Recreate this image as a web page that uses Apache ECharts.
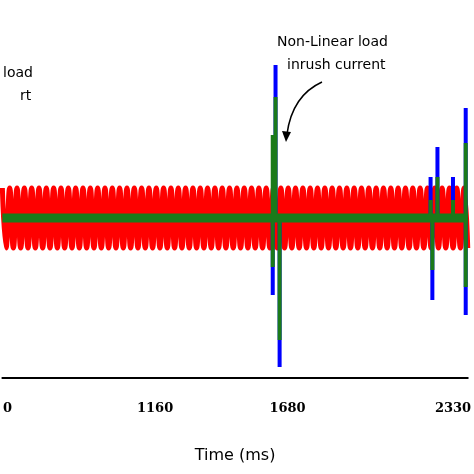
<!DOCTYPE html>
<html>
<head>
<meta charset="utf-8">
<script src="https://cdn.jsdelivr.net/npm/echarts@6/dist/echarts.min.js"></script>
<style>html,body{margin:0;padding:0;background:#fff}#c{width:474px;height:474px}</style>
</head>
<body>
<div id="c"></div>
<script>
// tick labels (ms)
var tickValues = [580, 1160, 1680, 2330];
var tickLabels = ['0', '1160', '1680', '2330'];

// supply current, read as half-cycle extremes
var redPeaks = [
    30, -30, 30, -30, 30, -30, 30, -30, 30, -30, 30, -30, 30, -30, 30, -30,
    30, -30, 30, -30, 30, -30, 30, -30, 30, -30, 30, -30, 30, -30, 30, -30,
    30, -30, 30, -30, 30, -30, 30, -30, 30, -30, 30, -30, 30, -30, 30, -30,
    30, -30, 30, -30, 30, -30, 30, -30, 30, -30, 30, -30, 30, -30, 30, -30,
    30, -30, 30, -30, 30, -30, 30, -30, 30, -30, 30, -30, 30, -30, 30, -30,
    30, -30, 30, -30, 30, -30, 30, -30, 30, -30, 30, -30, 30, -30, 30, -30,
    30, -30, 30, -30, 30, -30, 30, -30, 30, -30, 30, -30, 30, -30, 30, -30,
    30, -30, 30, -30, 30, -30, 30, -30, 30, -30, 30, -30, 30, -30, 30, -30
];

// spikes: time (ms), blue extreme, green extreme
var spikeTimes = [1622, 1622, 1633, 1649, 2242, 2249, 2269, 2330, 2380, 2380];
var blueSpikes = [0, -77, 153, -149, 41, -82, 71, 41, 110, -97];
var greenSpikes = [83, -49, 121, -122, 18, -52, 41, 18, 75, -69];

function spikeData(vals) {
    var d = [];
    for (var i = 0; i < spikeTimes.length; i++) {
        d.push([spikeTimes[i], 0], [spikeTimes[i], vals[i]], null);
    }
    return d;
}

var redCats = [];
for (var i = 0; i < redPeaks.length; i++) redCats.push(i);

var myChart = echarts.init(document.getElementById('c'));
myChart.setOption({
    animation: false,
    grid: {left: 0, right: 0, top: 0, bottom: 96},
    xAxis: [{
        type: 'value', min: 560, max: 2388,
        axisLine: {show: true, onZero: false, lineStyle: {color: '#000', width: 2}},
        axisTick: {show: false},
        splitLine: {show: false},
        axisLabel: {
            customValues: tickValues,
            formatter: function (v) { return tickLabels[tickValues.indexOf(v)]; },
            fontFamily: 'DejaVu Serif', fontWeight: 'bold', fontSize: 13, color: '#000', margin: 24
        },
        name: 'Time (ms)', nameLocation: 'middle', nameGap: 70,
        nameTextStyle: {fontFamily: 'DejaVu Sans', fontSize: 16, color: '#000'}
    }, {
        type: 'category', data: redCats, boundaryGap: false, show: false
    }],
    yAxis: {type: 'value', min: -160, max: 218, show: false},
    series: [{
        type: 'line', xAxisIndex: 1, data: redPeaks, smooth: true, symbol: 'none',
        lineStyle: {color: '#ff0000', width: 5}
    }, {
        type: 'line', data: spikeData(blueSpikes), symbol: 'none', connectNulls: false,
        lineStyle: {color: '#0000ff', width: 4}
    }, {
        type: 'line', data: spikeData(greenSpikes), symbol: 'none', connectNulls: false,
        lineStyle: {color: '#1a7a1a', width: 4}
    }, {
        type: 'line', data: [[560, 0], [2388, 0]], symbol: 'none',
        lineStyle: {color: '#1a7a1a', width: 9}
    }],
    graphic: [
        {type: 'text', left: 337 - 60, top: 35, style: {text: 'Non-Linear load', fontFamily: 'DejaVu Sans', fontSize: 14, fill: '#000'}},
        {type: 'text', left: 337 - 50, top: 58, style: {text: 'inrush current', fontFamily: 'DejaVu Sans', fontSize: 14, fill: '#000'}},
        {type: 'text', left: 3, top: 66, style: {text: 'load', fontFamily: 'DejaVu Sans', fontSize: 14, fill: '#000'}},
        {type: 'text', left: 20, top: 89, style: {text: 'rt', fontFamily: 'DejaVu Sans', fontSize: 14, fill: '#000'}},
        {type: 'bezierCurve', shape: {x1: 322, y1: 82, cpx1: 300, cpy1: 92, cpx2: 290, cpy2: 112, x2: 287, y2: 134},
            style: {stroke: '#000', lineWidth: 1.5, fill: null}},
        {type: 'polygon', shape: {points: [[286, 142], [282, 131], [291, 132]]}, style: {fill: '#000'}}
    ]
});
</script>
</body>
</html>
